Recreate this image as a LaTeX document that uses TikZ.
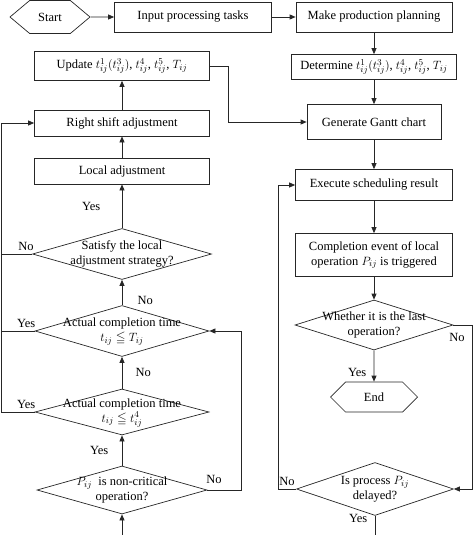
\documentclass[tikz,border=0pt]{standalone}
\usepackage{amsmath, amssymb}
\usepackage{fontspec}
\setmainfont{Liberation Serif}
\usetikzlibrary{arrows.meta, shapes.geometric, shapes.symbols}

\begin{document}
\begin{tikzpicture}[x=1pt, y=-1pt, line width=0.7pt, draw=black!85,
  font=\fontsize{12.5}{15}\selectfont,
  box/.style={draw, align=center, inner sep=1pt},
  decision/.style={draw, diamond, inner sep=0pt},
  term/.style={draw, signal, signal to=west and east, inner sep=0pt},
  arr/.style={-{Triangle[length=6pt, width=5pt]}}]

  \useasboundingbox (0,0) rectangle (474,535);

  % 主流程（右列）
  \node[term, minimum width=80pt, minimum height=33pt, signal pointer angle=80] (start) at (50,17) {Start};
  \node[box, minimum width=157pt, minimum height=30pt] (input) at (193,17) {Input processing tasks};
  \node[box, minimum width=156pt, minimum height=30pt] (plan) at (374,17) {Make production planning};
  \node[box, minimum width=165pt, minimum height=25pt] (det) at (374,67)
    {Determine $t^{1}_{ij}(t^{3}_{ij})$, $t^{4}_{ij}$, $t^{5}_{ij}$, $T_{ij}$};
  \node[box, minimum width=134pt, minimum height=35pt] (gantt) at (374,122) {Generate Gantt chart};
  \node[box, minimum width=157pt, minimum height=31pt] (exec) at (374,185) {Execute scheduling result};
  \node[box, minimum width=157pt, minimum height=43pt] (comp) at (374,255)
    {Completion event of local\\operation $P_{ij}$ is triggered};
  \node[decision, minimum width=158pt, minimum height=50pt] (last) at (374,325) {};
  \node at (last) {\begin{tabular}{c}Whether it is the last\\operation?\end{tabular}};
  \node[term, minimum width=87pt, minimum height=30pt, signal pointer angle=90] (end) at (374,397) {End};
  \node[decision, minimum width=157pt, minimum height=53pt] (delay) at (375,489) {};
  \node at (delay) {\begin{tabular}{c}Is process $P_{ij}$\\delayed?\end{tabular}};

  % 调整流程（左列）
  \node[box, minimum width=175pt, minimum height=29pt] (upd) at (122,66)
    {Update $t^{1}_{ij}(t^{3}_{ij})$, $t^{4}_{ij}$, $t^{5}_{ij}$, $T_{ij}$};
  \node[box, minimum width=175pt, minimum height=26pt] (shift) at (122,123) {Right shift adjustment};
  \node[box, minimum width=175pt, minimum height=26pt] (local) at (122,171) {Local adjustment};
  \node[decision, minimum width=179pt, minimum height=51pt] (sat) at (122,254) {};
  \node at (sat) {\begin{tabular}{c}Satisfy the local\\adjustment strategy?\end{tabular}};
  \node[decision, minimum width=174pt, minimum height=51pt] (leT) at (122,331) {};
  \node at (leT) {\begin{tabular}{c}Actual completion time\\$t_{ij}\leqq T_{ij}$\end{tabular}};
  \node[decision, minimum width=174pt, minimum height=46pt] (le4) at (122,412) {};
  \node at (le4) {\begin{tabular}{c}Actual completion time\\$t_{ij}\leqq t^{4}_{ij}$\end{tabular}};
  \node[decision, minimum width=170pt, minimum height=48pt] (crit) at (122,490) {};
  \node at (crit) {\begin{tabular}{c}$P_{ij}$\ \ is non-critical\\operation?\end{tabular}};

  % 折线拐点
  \coordinate (ltop) at (1,123);
  \coordinate (lbot) at (1,412);
  \coordinate (ujog) at (228,66);
  \coordinate (cjog) at (241,490);
  \coordinate (rjog) at (472,325);
  \coordinate (djog) at (278,489);
  \coordinate (cin) at (122,540);
  \coordinate (dout) at (375,540);

  % 连线
  \draw[arr] (start) -- (input);
  \draw[arr] (input) -- (plan);
  \draw[arr] (plan) -- (det);
  \draw[arr] (det) -- (gantt);
  \draw[arr] (gantt) -- (exec);
  \draw[arr] (exec) -- (comp);
  \draw[arr] (comp) -- (last);
  \draw[arr] (last) -- node[left=4pt, pos=0.7] {Yes} (end);
  \draw[arr] (last.east) -- node[below=5pt, pos=0.2] {No} (rjog) |- (delay.east);
  \draw[arr] (delay.west) -- node[above] {No} (djog) |- (exec.west);
  \draw (delay.south) -- node[left=4pt, pos=0.1] {Yes} (dout);

  \draw[arr] (upd.east) -- (ujog) |- (gantt.west);
  \draw[arr] (shift) -- (upd);
  \draw[arr] (local) -- (shift);
  \draw[arr] (sat) -- node[left=18pt] {Yes} (local);
  \draw[arr] (leT) -- node[right=12pt, pos=0.2] {No} (sat);
  \draw[arr] (le4) -- node[right=10pt] {No} (leT);
  \draw[arr] (crit) -- node[left=10pt] {Yes} (le4);
  \draw[arr] (cin) -- (crit.south);
  \draw[arr] (crit.east) -- node[above=3pt, pos=0.2] {No} (cjog) |- (leT.east);

  \draw (sat.west) -- node[above, pos=0.2] {No} (sat.west -| ltop);
  \draw (leT.west) -- node[above, pos=0.25] {Yes} (leT.west -| ltop);
  \draw[arr] (le4.west) -- node[above, pos=0.25] {Yes} (lbot) -- (ltop) -- (shift.west);
\end{tikzpicture}
\end{document}
